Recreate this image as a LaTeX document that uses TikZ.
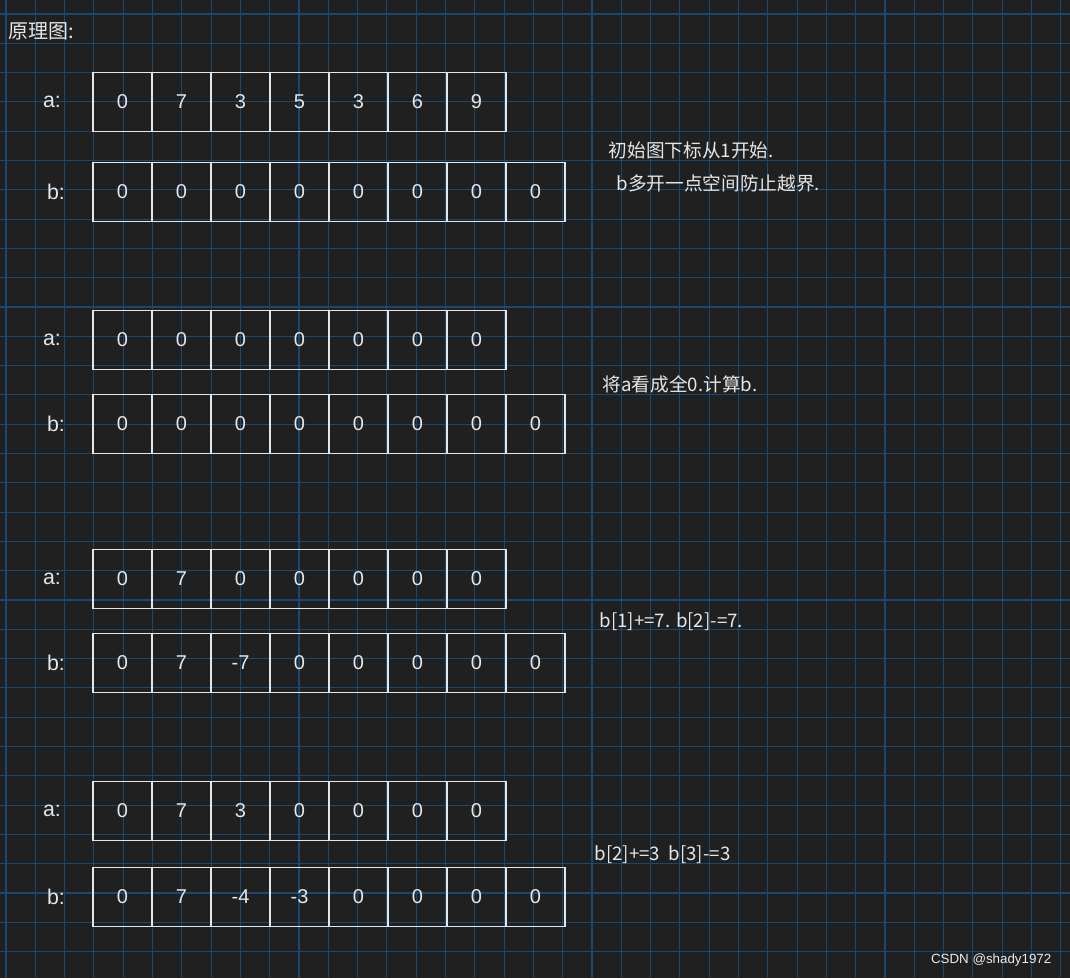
\documentclass[tikz,border=0pt]{standalone}
\usepackage{fontspec}
\setmainfont{Liberation Sans}
\newfontfamily\cjk{Noto Sans CJK SC}
\definecolor{bgc}{HTML}{202020}
\definecolor{gridc}{HTML}{1B4870}
\definecolor{inkc}{HTML}{E6E6E6}
\begin{document}
\begin{tikzpicture}[x=0.75pt,y=-0.75pt,
  cell/.style={draw=inkc,line width=1.2pt,minimum width=44pt,minimum height=44pt,inner sep=0pt,text=inkc,font=\fontsize{15}{15}\selectfont},
  lab/.style={text=inkc,font=\fontsize{16}{16}\selectfont},
  note/.style={text=inkc,anchor=west,font=\cjk\fontsize{14}{14}\selectfont}]
\fill[bgc] (0,0) rectangle (1070,978);
\useasboundingbox (0,0) rectangle (1070,978);
\foreach \i in {0,...,36} {\draw[gridc,line width=0.8pt] ({6+\i*29.3},0) -- ({6+\i*29.3},978);}
\foreach \i in {0,...,33} {\draw[gridc,line width=0.8pt] (0,{14+\i*29.3}) -- (1070,{14+\i*29.3});}
\node[text=inkc,anchor=west,font=\cjk\fontsize{15}{15}\selectfont] (title) at (4,31) {原理图:};
\foreach \r/\ya/\yb/\av/\bv in {
 1/102/192/{0,7,3,5,3,6,9}/{0,0,0,0,0,0,0,0},
 2/340/424/{0,0,0,0,0,0,0}/{0,0,0,0,0,0,0,0},
 3/579/663/{0,7,0,0,0,0,0}/{0,7,-7,0,0,0,0,0},
 4/811/897/{0,7,3,0,0,0,0}/{0,7,-4,-3,0,0,0,0}} {
  \node[lab] (la\r) at (52,\ya) {a:};
  \node[lab] (lb\r) at (56,\yb) {b:};
  \foreach \v [count=\k] in \av {\node[cell] (a\r c\k) at ({122.5+(\k-1)*59},\ya) {\v};}
  \foreach \v [count=\k] in \bv {\node[cell] (b\r c\k) at ({122.5+(\k-1)*59},\yb) {\v};}
}
\node[note] (n1) at (604,150) {初始图下标从1开始.};
\node[note] (n2) at (612,183) {b多开一点空间防止越界.};
\node[note] (n3) at (598,384) {将a看成全0.计算b.};
\node[note] (n4) at (595,622) {b[1]+=7. b[2]-=7.};
\node[note] (n5) at (590,855) {b[2]+=3\ \ b[3]-=3};
\node[text=inkc!80,anchor=east,font=\fontsize{10}{10}\selectfont] (wm) at (1056,960) {CSDN @shady1972};
\end{tikzpicture}
\end{document}
